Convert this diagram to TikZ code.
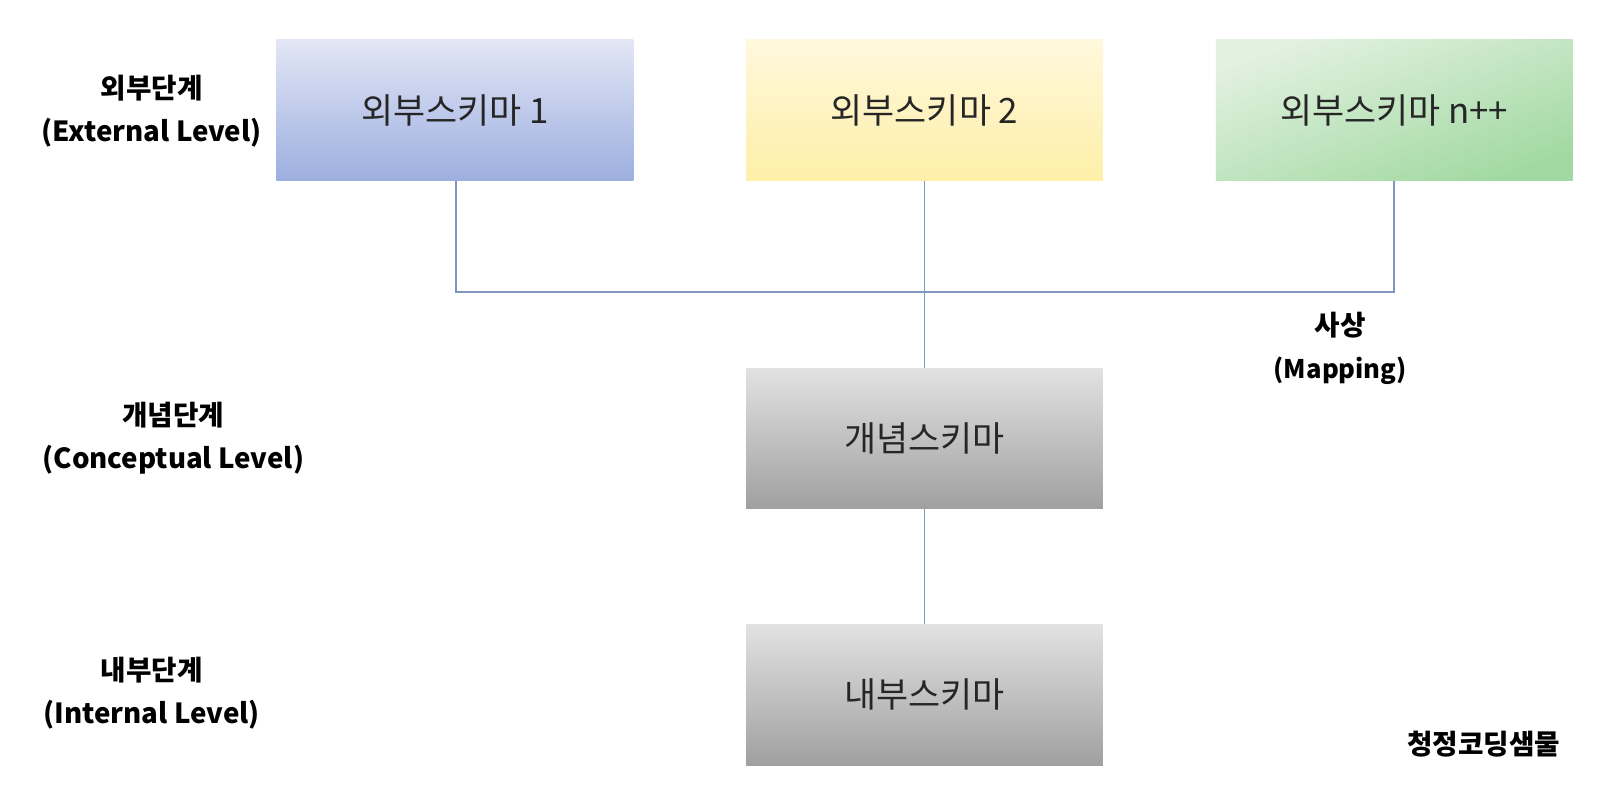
\documentclass[tikz,border=0pt]{standalone}
\usepackage{fontspec}
\setmainfont{Noto Sans CJK KR}
\tikzset{
  schemabox/.style={draw=none, inner sep=0pt, minimum width=348pt, minimum height=137pt, font=\fontsize{34}{40}\selectfont, text=black!85},
  bluebox/.style={schemabox, shade, top color=blue1, bottom color=blue2},
  yellowbox/.style={schemabox, shade, top color=yellow1, bottom color=yellow2},
  greenbox/.style={schemabox, shade, left color=green1, right color=green2, shading angle=20},
  graybox/.style={schemabox, shade, top color=gray1, bottom color=gray2},
  levellabel/.style={align=center, font=\fontsize{27}{42}\selectfont\bfseries, text=black},
  link/.style={draw=linkblue, line width=1.6pt},
}
\definecolor{blue1}{HTML}{E2E6F5}
\definecolor{blue2}{HTML}{9DAFE0}
\definecolor{yellow1}{HTML}{FFF8DC}
\definecolor{yellow2}{HTML}{FEEFA8}
\definecolor{green1}{HTML}{E2F1E0}
\definecolor{green2}{HTML}{A2D9A2}
\definecolor{gray1}{HTML}{E2E2E2}
\definecolor{gray2}{HTML}{A0A0A0}
\definecolor{linkblue}{HTML}{7F97BD}
\begin{document}
\begin{tikzpicture}[x=1pt,y=-1pt]
\fill[white] (0,0) rectangle (1568,768.4);
\useasboundingbox (0,0) rectangle (1568,768.4);
\node[bluebox] (ext1) at (443.5,107.5) {외부스키마 1};
\node[yellowbox] (ext2) at (901.5,107.5) {외부스키마 2};
\node[greenbox] (extn) at (1359.5,107.5) {외부스키마 n++};
\node[graybox] (conc) at (901.5,427.5) {개념스키마};
\node[graybox] (intl) at (901.5,677.5) {내부스키마};
\coordinate (hub) at (ext2.south |- 0,285);
\draw[link] ([xshift=1.2pt]ext1.south) |- (hub);
\draw[link] (extn.south) |- (hub);
\draw[link] (ext2.south) -- (conc.north);
\draw[link] (conc.south) -- (intl.north);
\node[levellabel] (lblext) at (148,108) {외부단계\\(External Level)};
\node[levellabel] (lblconc) at (169,427) {개념단계\\(Conceptual Level)};
\node[levellabel] (lblint) at (148,676) {내부단계\\(Internal Level)};
\node[levellabel] (lblmap) at (1307,340) {사상\\{\fontsize{25}{42}\selectfont (Mapping)}};
\node[font=\fontsize{27}{32}\selectfont\bfseries, text=black] (credit) at (1447,726) {청정코딩샘물};
\end{tikzpicture}
\end{document}
